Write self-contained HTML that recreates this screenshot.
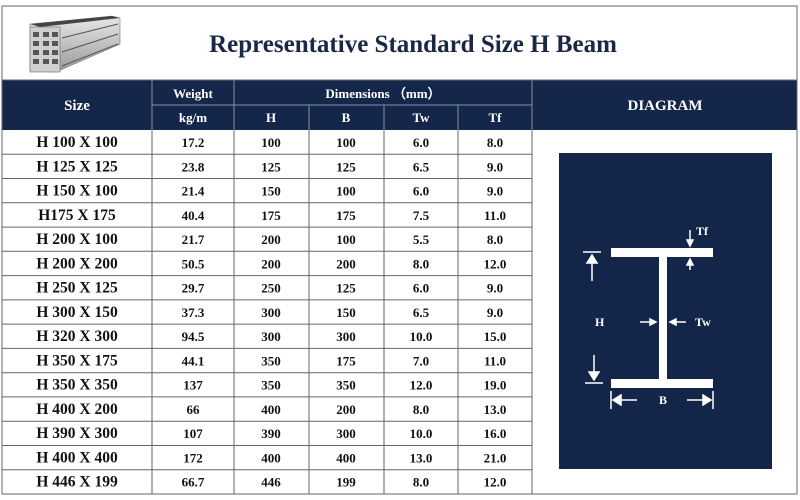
<!DOCTYPE html>
<html><head><meta charset="utf-8"><style>
html,body{margin:0;padding:0;background:#fff;}
svg{display:block;}
text{font-family:"Liberation Serif",serif;font-weight:bold;}
</style></head><body>
<svg width="800" height="500" viewBox="0 0 800 500" xmlns="http://www.w3.org/2000/svg">
<rect x="0" y="0" width="800" height="500" fill="#fff"/>
<defs>
<linearGradient id="g1" x1="0" y1="0" x2="0" y2="1"><stop offset="0" stop-color="#e8e8e8"/><stop offset="1" stop-color="#9a9a9a"/></linearGradient>
</defs>
<g>
<polygon points="30,24 112,16 120,18 120,44 56,72 30,70" fill="url(#g1)" stroke="#777" stroke-width="0.6"/>
<polygon points="30,24 112,16 120,18 40,27" fill="#444"/>
<rect x="30" y="27" width="30" height="45" fill="#cfcfcf" stroke="#666" stroke-width="0.6"/>
<g fill="#555"><rect x="33" y="32" width="6" height="5"/><rect x="43" y="32" width="6" height="5"/><rect x="52" y="32" width="6" height="5"/>
<rect x="33" y="41" width="6" height="5"/><rect x="43" y="41" width="6" height="5"/><rect x="52" y="41" width="6" height="5"/>
<rect x="33" y="50" width="6" height="5"/><rect x="43" y="50" width="6" height="5"/><rect x="52" y="50" width="6" height="5"/>
<rect x="33" y="59" width="6" height="5"/><rect x="43" y="59" width="6" height="5"/><rect x="52" y="59" width="6" height="5"/></g>
<line x1="62" y1="38" x2="118" y2="24" stroke="#555"/><line x1="62" y1="52" x2="118" y2="34" stroke="#555"/><line x1="62" y1="66" x2="118" y2="44" stroke="#555"/>
</g>
<text x="413" y="52" font-size="25" fill="#1b2745" text-anchor="middle">Representative Standard Size H Beam</text>
<rect x="2" y="80" width="795" height="50" fill="#14264a"/>
<g stroke="#8a93a8" stroke-width="1">
<line x1="152" y1="80" x2="152" y2="130"/><line x1="234" y1="80" x2="234" y2="130"/>
<line x1="532" y1="80" x2="532" y2="130"/>
<line x1="152" y1="105" x2="532" y2="105"/>
<line x1="309" y1="105" x2="309" y2="130"/><line x1="384" y1="105" x2="384" y2="130"/><line x1="458" y1="105" x2="458" y2="130"/>
</g>
<g fill="#fff" text-anchor="middle" font-size="13">
<text x="77" y="110" font-size="15">Size</text>
<text x="193" y="98">Weight</text>
<text x="193" y="122">kg/m</text>
<text x="383" y="98">Dimensions （mm）</text>
<text x="271" y="122">H</text><text x="346" y="122">B</text><text x="421" y="122">Tw</text><text x="495" y="122">Tf</text>
<text x="665" y="110" font-size="15">DIAGRAM</text>
</g>
<g stroke="#666" stroke-width="1" fill="none">
<rect x="2" y="6" width="795" height="488"/>
<line x1="2" y1="80" x2="797" y2="80"/>
<line x1="152" y1="130" x2="152" y2="494"/><line x1="234" y1="130" x2="234" y2="494"/>
<line x1="309" y1="130" x2="309" y2="494"/><line x1="384" y1="130" x2="384" y2="494"/>
<line x1="458" y1="130" x2="458" y2="494"/><line x1="532" y1="130" x2="532" y2="494"/>
<line x1="2" y1="154.3" x2="532" y2="154.3"/><line x1="2" y1="178.5" x2="532" y2="178.5"/>
<line x1="2" y1="202.8" x2="532" y2="202.8"/><line x1="2" y1="227.1" x2="532" y2="227.1"/>
<line x1="2" y1="251.3" x2="532" y2="251.3"/><line x1="2" y1="275.6" x2="532" y2="275.6"/>
<line x1="2" y1="299.9" x2="532" y2="299.9"/><line x1="2" y1="324.1" x2="532" y2="324.1"/>
<line x1="2" y1="348.4" x2="532" y2="348.4"/><line x1="2" y1="372.7" x2="532" y2="372.7"/>
<line x1="2" y1="396.9" x2="532" y2="396.9"/><line x1="2" y1="421.2" x2="532" y2="421.2"/>
<line x1="2" y1="445.5" x2="532" y2="445.5"/><line x1="2" y1="469.7" x2="532" y2="469.7"/>
</g>
<g fill="#111" text-anchor="middle" font-size="13">
<text y="147"><tspan x="77" font-size="15.5">H 100 X 100</tspan><tspan x="193">17.2</tspan><tspan x="271">100</tspan><tspan x="346">100</tspan><tspan x="421">6.0</tspan><tspan x="495">8.0</tspan></text>
<text y="171.3"><tspan x="77" font-size="15.5">H 125 X 125</tspan><tspan x="193">23.8</tspan><tspan x="271">125</tspan><tspan x="346">125</tspan><tspan x="421">6.5</tspan><tspan x="495">9.0</tspan></text>
<text y="195.5"><tspan x="77" font-size="15.5">H 150 X 100</tspan><tspan x="193">21.4</tspan><tspan x="271">150</tspan><tspan x="346">100</tspan><tspan x="421">6.0</tspan><tspan x="495">9.0</tspan></text>
<text y="219.8"><tspan x="77" font-size="15.5">H175 X 175</tspan><tspan x="193">40.4</tspan><tspan x="271">175</tspan><tspan x="346">175</tspan><tspan x="421">7.5</tspan><tspan x="495">11.0</tspan></text>
<text y="244.1"><tspan x="77" font-size="15.5">H 200 X 100</tspan><tspan x="193">21.7</tspan><tspan x="271">200</tspan><tspan x="346">100</tspan><tspan x="421">5.5</tspan><tspan x="495">8.0</tspan></text>
<text y="268.3"><tspan x="77" font-size="15.5">H 200 X 200</tspan><tspan x="193">50.5</tspan><tspan x="271">200</tspan><tspan x="346">200</tspan><tspan x="421">8.0</tspan><tspan x="495">12.0</tspan></text>
<text y="292.6"><tspan x="77" font-size="15.5">H 250 X 125</tspan><tspan x="193">29.7</tspan><tspan x="271">250</tspan><tspan x="346">125</tspan><tspan x="421">6.0</tspan><tspan x="495">9.0</tspan></text>
<text y="316.9"><tspan x="77" font-size="15.5">H 300 X 150</tspan><tspan x="193">37.3</tspan><tspan x="271">300</tspan><tspan x="346">150</tspan><tspan x="421">6.5</tspan><tspan x="495">9.0</tspan></text>
<text y="341.1"><tspan x="77" font-size="15.5">H 320 X 300</tspan><tspan x="193">94.5</tspan><tspan x="271">300</tspan><tspan x="346">300</tspan><tspan x="421">10.0</tspan><tspan x="495">15.0</tspan></text>
<text y="365.4"><tspan x="77" font-size="15.5">H 350 X 175</tspan><tspan x="193">44.1</tspan><tspan x="271">350</tspan><tspan x="346">175</tspan><tspan x="421">7.0</tspan><tspan x="495">11.0</tspan></text>
<text y="389.7"><tspan x="77" font-size="15.5">H 350 X 350</tspan><tspan x="193">137</tspan><tspan x="271">350</tspan><tspan x="346">350</tspan><tspan x="421">12.0</tspan><tspan x="495">19.0</tspan></text>
<text y="413.9"><tspan x="77" font-size="15.5">H 400 X 200</tspan><tspan x="193">66</tspan><tspan x="271">400</tspan><tspan x="346">200</tspan><tspan x="421">8.0</tspan><tspan x="495">13.0</tspan></text>
<text y="438.2"><tspan x="77" font-size="15.5">H 390 X 300</tspan><tspan x="193">107</tspan><tspan x="271">390</tspan><tspan x="346">300</tspan><tspan x="421">10.0</tspan><tspan x="495">16.0</tspan></text>
<text y="462.5"><tspan x="77" font-size="15.5">H 400 X 400</tspan><tspan x="193">172</tspan><tspan x="271">400</tspan><tspan x="346">400</tspan><tspan x="421">13.0</tspan><tspan x="495">21.0</tspan></text>
<text y="486.7"><tspan x="77" font-size="15.5">H 446 X 199</tspan><tspan x="193">66.7</tspan><tspan x="271">446</tspan><tspan x="346">199</tspan><tspan x="421">8.0</tspan><tspan x="495">12.0</tspan></text>
</g>
<rect x="559" y="153" width="213" height="316" fill="#13264a"/>
<g fill="#fff" stroke="none">
<rect x="611" y="248" width="102" height="9"/>
<rect x="611" y="379" width="102" height="9"/>
<rect x="659" y="256" width="8" height="124"/>
</g>
<g stroke="#fff" stroke-width="1.5" fill="#fff">
<line x1="583" y1="252" x2="601" y2="252"/><line x1="592" y1="281" x2="592" y2="261"/><polygon points="587,263 597,263 592,255"/>
<line x1="585" y1="383" x2="603" y2="383"/><line x1="594" y1="355" x2="594" y2="374"/><polygon points="589,372 599,372 594,380"/>
<line x1="690" y1="230" x2="690" y2="242"/><polygon points="687,240 693,240 690,246"/>
<line x1="690" y1="270" x2="690" y2="264"/><polygon points="687,265 693,265 690,259"/>
<line x1="640" y1="322" x2="652" y2="322"/><polygon points="650,319 650,325 656,322"/>
<line x1="686" y1="322" x2="674" y2="322"/><polygon points="676,319 676,325 670,322"/>
<line x1="611" y1="391" x2="611" y2="409"/><line x1="713" y1="391" x2="713" y2="409"/>
<line x1="614" y1="400" x2="637" y2="400"/><polygon points="621,395 621,405 613,400"/>
<line x1="687" y1="400" x2="710" y2="400"/><polygon points="703,395 703,405 711,400"/>
</g>
<g fill="#fff" font-size="12">
<text x="696" y="235">Tf</text>
<text x="595" y="326">H</text>
<text x="695" y="326">Tw</text>
<text x="659" y="404">B</text>
</g>
</svg>
</body></html>
